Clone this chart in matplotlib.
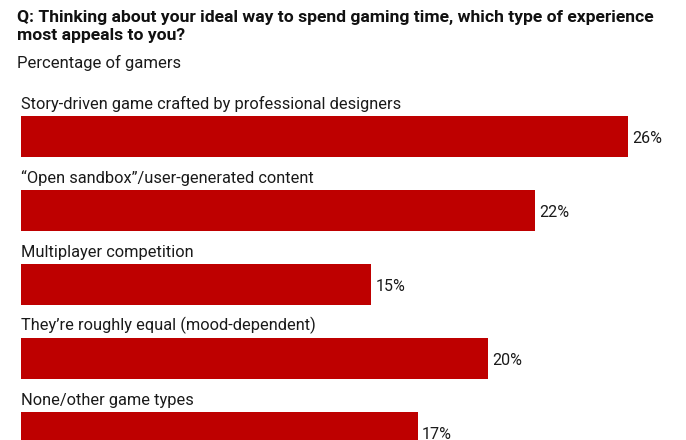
import matplotlib
matplotlib.use("Agg")
import matplotlib.pyplot as plt

categories = [
    "Story-driven game crafted by professional designers",
    "\u201cOpen sandbox\u201d/user-generated content",
    "Multiplayer competition",
    "They\u2019re roughly equal (mood-dependent)",
    "None/other game types",
]
values = [26, 22, 15, 20, 17]
value_labels = ["26%", "22%", "15%", "20%", "17%"]

title = "Q: Thinking about your ideal way to spend gaming time, which type of experience\nmost appeals to you?"
subtitle = "Percentage of gamers"

W, H = 686, 440
fig = plt.figure(figsize=(W / 100, H / 100), dpi=100)
fig.patch.set_facecolor("white")

px_per = 23.35
xmax = 28
ax_left = 21 / W
ax_w = xmax * px_per / W
top_pos, bot_pos = -1.0, (440 - 136.5) / 74
ax_top_px = 136.5 - 74
ax = fig.add_axes([ax_left, 0, ax_w, (H - ax_top_px) / H])
ax.set_xlim(0, xmax)
ax.set_ylim(bot_pos, top_pos)
ax.axis("off")

bar_h = 41 / 74
pos = list(range(len(categories)))
ax.barh(pos, values, height=bar_h, color="#BE0000", edgecolor="none")

label_font = "Roboto"
for i, (cat, v, vl) in enumerate(zip(categories, values, value_labels)):
    ax.annotate(cat, xy=(0, i - bar_h / 2), xytext=(0, 3), textcoords="offset points",
                ha="left", va="bottom", fontsize=11.8, family=label_font, color="#1a1a1a")
    ax.annotate(vl, xy=(v, i), xytext=(3, -1.5), textcoords="offset points",
                ha="left", va="center", fontsize=11.5, family=label_font, color="#1a1a1a")

fig.text(17 / W, 1 - 10 / H, title, ha="left", va="top", fontsize=12.6,
         fontweight="bold", family="Roboto", color="#111111", linespacing=1.25)
fig.text(17 / W, 1 - 55 / H, subtitle, ha="left", va="top", fontsize=12,
         family=label_font, color="#1a1a1a")

fig.savefig("out.png", dpi=100, facecolor="white")
